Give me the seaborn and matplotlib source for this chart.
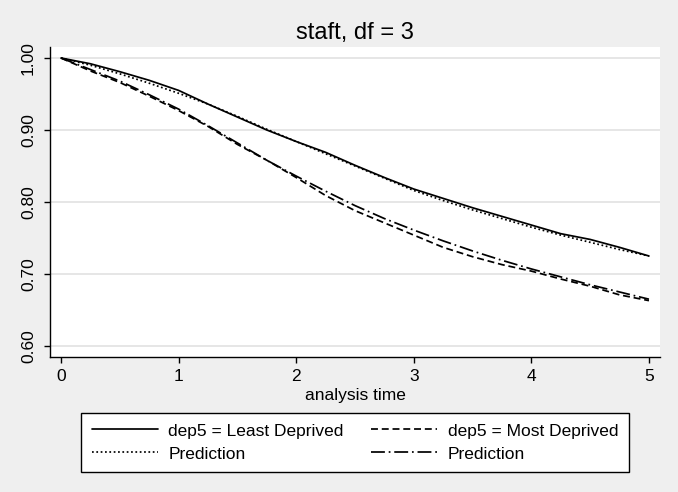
import numpy as np
import pandas as pd
import matplotlib
matplotlib.use("Agg")
import matplotlib.pyplot as plt
import seaborn as sns

# ---- data ----
time = [0.0, 0.25, 0.5, 0.75, 1.0, 1.25, 1.5, 1.75, 2.0, 2.25, 2.5,
        2.75, 3.0, 3.25, 3.5, 3.75, 4.0, 4.25, 4.5, 4.75, 5.0]
least_obs = [1.0, 0.992, 0.981, 0.969, 0.955, 0.936, 0.918, 0.900, 0.884, 0.869, 0.851,
             0.834, 0.818, 0.805, 0.792, 0.780, 0.768, 0.756, 0.748, 0.737, 0.725]
least_pred = [1.0, 0.990, 0.978, 0.965, 0.951, 0.936, 0.919, 0.901, 0.884, 0.867, 0.850,
              0.833, 0.816, 0.802, 0.789, 0.777, 0.765, 0.754, 0.744, 0.734, 0.725]
most_obs = [1.0, 0.982, 0.966, 0.947, 0.927, 0.905, 0.880, 0.858, 0.834, 0.809, 0.788,
            0.771, 0.754, 0.737, 0.724, 0.713, 0.704, 0.693, 0.683, 0.671, 0.663]
most_pred = [1.0, 0.984, 0.968, 0.949, 0.929, 0.906, 0.882, 0.858, 0.836, 0.815, 0.795,
             0.777, 0.761, 0.746, 0.732, 0.719, 0.707, 0.696, 0.685, 0.675, 0.665]

series_keys = ["least_obs", "least_pred", "most_obs", "most_pred"]
legend_labels = ["dep5 = Least Deprived", "Prediction", "dep5 = Most Deprived", "Prediction"]
x_ticks = [0, 1, 2, 3, 4, 5]
y_ticks = [0.60, 0.70, 0.80, 0.90, 1.00]
title = "staft, df = 3"
xlabel = "analysis time"

values = {"least_obs": least_obs, "least_pred": least_pred,
          "most_obs": most_obs, "most_pred": most_pred}
df = pd.concat([pd.DataFrame({"time": time, "surv": values[k], "series": k})
                for k in series_keys], ignore_index=True)

sns.set_style("white")
plt.rcParams["font.family"] = ["Liberation Sans", "DejaVu Sans"]
plt.rcParams["text.color"] = "black"
plt.rcParams["axes.labelcolor"] = "black"
plt.rcParams["xtick.color"] = "black"
plt.rcParams["ytick.color"] = "black"

bg = "#EFEFEF"
fig = plt.figure(figsize=(6.78, 4.92), dpi=100, facecolor=bg)
ax = fig.add_axes([50/678, 1-357/492, 610/678, 310/492])
ax.set_facecolor("white")

dash_map = {"least_obs": "", "least_pred": (1, 1.5),
            "most_obs": (4, 2.2), "most_pred": (8, 2.2, 1, 2.2)}
sns.lineplot(data=df, x="time", y="surv", style="series", style_order=series_keys,
             dashes=dash_map, color="black", linewidth=1.25, legend=False, ax=ax,
             estimator=None, sort=False)

ax.set_xlim(-0.094, 5.094)
ax.set_ylim(0.5847, 1.0153)
ax.set_xticks(x_ticks)
ax.set_xticklabels([str(v) for v in x_ticks])
ax.set_yticks(y_ticks)
ax.set_yticklabels([f"{v:.2f}" for v in y_ticks], rotation=90, va="center")
ax.yaxis.grid(True, color="#E4E4E4", linewidth=1.3)
ax.xaxis.grid(False)
ax.set_axisbelow(True)
for s in ["top", "right"]:
    ax.spines[s].set_visible(False)
for s in ["left", "bottom"]:
    ax.spines[s].set_color("black")
    ax.spines[s].set_linewidth(1.0)
ax.tick_params(axis="both", which="major", direction="out", length=4, width=1,
               color="black", labelcolor="black", labelsize=12.5, bottom=True, left=True)
ax.tick_params(axis="y", pad=6)
ax.tick_params(axis="x", pad=4.5)
ax.set_xlabel(xlabel, fontsize=12.5, labelpad=3, color="black")
ax.set_ylabel("")
ax.set_title(title, fontsize=17, pad=6, color="black")

handles = ax.get_lines()[:4]
leg = fig.legend(handles, legend_labels, loc="upper center",
                 bbox_to_anchor=(355/678, 1-413/492), ncol=2, fontsize=12.5,
                 frameon=True, fancybox=False, edgecolor="black", framealpha=1,
                 handlelength=3.8, handletextpad=0.6, columnspacing=1.6,
                 labelspacing=0.45, borderpad=0.6, borderaxespad=0)
leg.get_frame().set_linewidth(1.0)
for t in leg.get_texts():
    t.set_color("black")

fig.savefig("out.png", dpi=100, facecolor=bg)
